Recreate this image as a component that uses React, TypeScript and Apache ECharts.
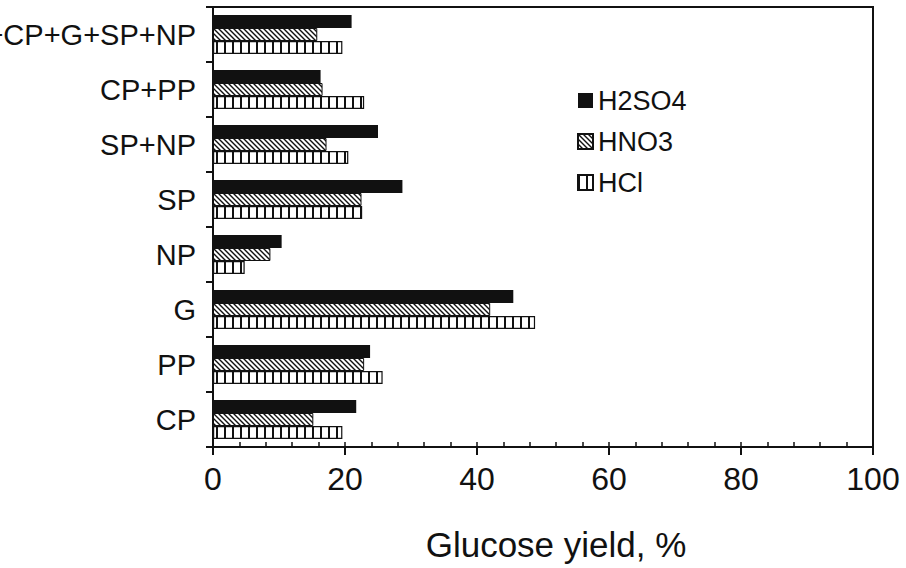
import React, { useEffect, useRef } from "react";
import * as echarts from "echarts";

const categories = ["CP", "PP", "G", "NP", "SP", "SP+NP", "CP+PP", "PP+CP+G+SP+NP"];
const seriesNames = ["H2SO4", "HNO3", "HCl"];
const h2so4 = [21.7, 23.8, 45.5, 10.4, 28.7, 25.0, 16.3, 21.0];
const hno3 = [15.2, 22.9, 42.0, 8.7, 22.5, 17.2, 16.6, 15.8];
const hcl = [19.6, 25.7, 48.8, 4.8, 22.6, 20.5, 22.9, 19.6];
const xTicks = [0, 20, 40, 60, 80, 100];

const FONT = "'Liberation Sans', Arial, Helvetica, sans-serif";
const INK = "#111";

function hatchCanvas(): HTMLCanvasElement {
  const s = 5;
  const c = document.createElement("canvas");
  c.width = s;
  c.height = s;
  const ctx = c.getContext("2d")!;
  ctx.fillStyle = "#fff";
  ctx.fillRect(0, 0, s, s);
  ctx.strokeStyle = INK;
  ctx.lineWidth = 1.4;
  ctx.beginPath();
  ctx.moveTo(-1, -1);
  ctx.lineTo(s + 1, s + 1);
  ctx.moveTo(-2, s - 2);
  ctx.lineTo(2, s + 2);
  ctx.moveTo(s - 2, -2);
  ctx.lineTo(s + 2, 2);
  ctx.stroke();
  return c;
}

function vlineCanvas(): HTMLCanvasElement {
  const w = 8;
  const h = 8;
  const c = document.createElement("canvas");
  c.width = w;
  c.height = h;
  const ctx = c.getContext("2d")!;
  ctx.fillStyle = "#fff";
  ctx.fillRect(0, 0, w, h);
  ctx.fillStyle = INK;
  ctx.fillRect(0, 0, 2, h);
  return c;
}

export default function App() {
  const ref = useRef<HTMLDivElement>(null);
  useEffect(() => {
    if (!ref.current) return;
    const chart = echarts.init(ref.current, null, { renderer: "svg" });
    const hatch = { image: hatchCanvas(), repeat: "repeat", imageWidth: 5, imageHeight: 5 } as any;
    const vlines = { image: vlineCanvas(), repeat: "repeat", imageWidth: 8, imageHeight: 8 } as any;
    const datasets = [h2so4, hno3, hcl];
    const styles = [
      { color: INK, borderColor: INK, borderWidth: 0 },
      { color: hatch, borderColor: INK, borderWidth: 1 },
      { color: vlines, borderColor: INK, borderWidth: 1.2 },
    ];
    chart.setOption({
      animation: false,
      backgroundColor: "#fff",
      textStyle: { fontFamily: FONT, color: INK },
      grid: {
        left: 213,
        right: 33,
        top: 7,
        bottom: 121,
        containLabel: false,
        outerBoundsMode: "none",
        show: true,
        borderColor: INK,
        borderWidth: 2,
        backgroundColor: "#fff",
      },
      legend: {
        orient: "vertical",
        left: 577,
        top: 87,
        padding: 0,
        itemWidth: 15,
        itemHeight: 15,
        itemGap: 14,
        icon: "rect",
        data: seriesNames,
        textStyle: { fontFamily: FONT, fontSize: 27, color: INK },
      },
      xAxis: [
        {
          type: "value",
          position: "bottom",
          min: 0,
          max: 100,
          interval: 20,
          axisLine: { show: true, lineStyle: { color: INK, width: 2 } },
          axisTick: { show: true, inside: false, length: 8, lineStyle: { color: INK, width: 2 } },
          axisLabel: {
            margin: 16,
            fontSize: 32,
            color: INK,
            fontFamily: FONT,
            formatter: (v: number) => (xTicks.includes(v) ? String(v) : ""),
          },
          splitLine: { show: false },
        },
        {
          type: "value",
          position: "bottom",
          offset: 0,
          min: 0,
          max: 100,
          interval: 4,
          axisLine: { show: false },
          axisTick: { show: true, inside: true, length: 5, lineStyle: { color: INK, width: 1.5 } },
          axisLabel: { show: false },
          splitLine: { show: false },
        },
      ],
      yAxis: {
        type: "category",
        data: categories,
        axisLine: { show: true, lineStyle: { color: INK, width: 2 } },
        axisTick: { show: true, inside: false, length: 7, lineStyle: { color: INK, width: 2 } },
        axisLabel: { margin: 17, fontSize: 29, color: INK, fontFamily: FONT },
      },
      series: seriesNames.map((name, i) => ({
        name,
        type: "bar",
        xAxisIndex: 0,
        data: datasets[i],
        barWidth: 13,
        barGap: "0%",
        itemStyle: styles[i],
      })),
      graphic: [
        {
          type: "text",
          x: 556,
          y: 544,
          style: {
            text: "Glucose yield, %",
            font: `35px ${FONT}`,
            fill: INK,
            textAlign: "center",
            textVerticalAlign: "middle",
          },
        },
      ],
    });
    return () => chart.dispose();
  }, []);
  return (
    <div
      ref={ref}
      style={{ position: "absolute", left: 0, top: 0, width: 906, height: 568 }}
    />
  );
}
